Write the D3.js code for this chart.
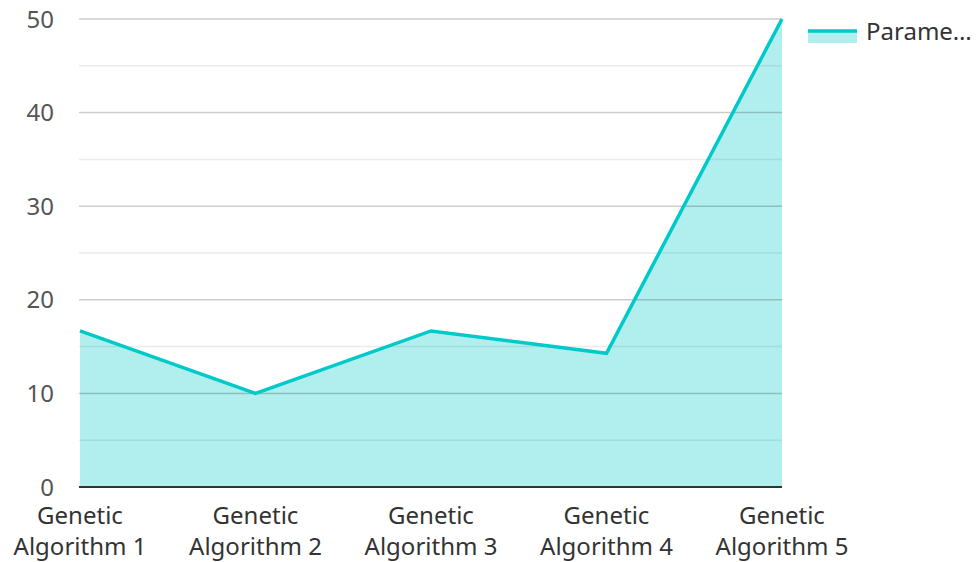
<!DOCTYPE html>
<html>
<head>
<meta charset="utf-8">
<script src="https://cdn.jsdelivr.net/npm/d3@7"></script>
<style>
  html, body { margin: 0; padding: 0; background: #fff; }
  svg { display: block; font-family: "Noto Sans", "Open Sans", sans-serif; }
</style>
</head>
<body>
<svg id="chart" width="979" height="562"></svg>
<script>
// Chart data
const categories = ["Genetic Algorithm 1", "Genetic Algorithm 2", "Genetic Algorithm 3", "Genetic Algorithm 4", "Genetic Algorithm 5"];
const seriesName = "Parameter";
const seriesValues = [16.67, 10, 16.67, 14.29, 50];
const yTicks = [0, 10, 20, 30, 40, 50];
const yMinorTicks = [5, 15, 25, 35, 45];

const W = 979, H = 562;
const m = { left: 80, right: 197, top: 19, bottom: 75 };
const svg = d3.select("#chart");

const x = d3.scalePoint().domain(categories).range([m.left, W - m.right]);
const y = d3.scaleLinear().domain([0, 50]).range([H - m.bottom, m.top]);

const lineColor = "#00c9c9";
const fillColor = "#b1efee";
const fontSize = 24;

// Area fill
const area = d3.area()
  .x((d, i) => x(categories[i]))
  .y0(y(0))
  .y1(d => y(d));
svg.append("path")
  .datum(seriesValues)
  .attr("d", area)
  .attr("fill", fillColor);

// Gridlines (drawn over the fill, semi-transparent)
const grid = svg.append("g");
grid.selectAll("line.minor")
  .data(yMinorTicks)
  .join("line")
  .attr("class", "minor")
  .attr("x1", m.left - 1).attr("x2", W - m.right)
  .attr("y1", d => y(d)).attr("y2", d => y(d))
  .attr("stroke", "rgba(0,0,0,0.08)")
  .attr("stroke-width", 1.5);
grid.selectAll("line.major")
  .data(yTicks.filter(d => d !== 0))
  .join("line")
  .attr("class", "major")
  .attr("x1", m.left - 1).attr("x2", W - m.right)
  .attr("y1", d => y(d)).attr("y2", d => y(d))
  .attr("stroke", "rgba(0,0,0,0.2)")
  .attr("stroke-width", 1.5);

// Series line
const line = d3.line()
  .x((d, i) => x(categories[i]))
  .y(d => y(d));
svg.append("path")
  .datum(seriesValues)
  .attr("d", line)
  .attr("fill", "none")
  .attr("stroke", lineColor)
  .attr("stroke-width", 3.5)
  .attr("stroke-linejoin", "miter");

// Baseline axis
svg.append("line")
  .attr("x1", m.left - 1).attr("x2", W - m.right)
  .attr("y1", y(0)).attr("y2", y(0))
  .attr("stroke", "#333")
  .attr("stroke-width", 2);

// Y axis labels
svg.append("g")
  .selectAll("text")
  .data(yTicks)
  .join("text")
  .attr("x", 54)
  .attr("y", d => y(d))
  .attr("dy", "0.36em")
  .attr("text-anchor", "end")
  .attr("font-size", fontSize)
  .attr("fill", "#555")
  .text(d => d);

// X axis labels (two lines)
const xl = svg.append("g")
  .selectAll("text")
  .data(categories)
  .join("text")
  .attr("x", d => x(d))
  .attr("y", 524)
  .attr("text-anchor", "middle")
  .attr("font-size", fontSize)
  .attr("fill", "#333");
xl.each(function(d) {
  const parts = d.split(" ");
  const first = parts[0];
  const rest = parts.slice(1).join(" ");
  const t = d3.select(this);
  t.append("tspan").attr("x", x(d)).attr("dy", 0).text(first);
  t.append("tspan").attr("x", x(d)).attr("dy", 31).text(rest);
});

// Legend
const lg = svg.append("g").attr("transform", "translate(808,31)");
lg.append("rect").attr("x", 0).attr("y", 0).attr("width", 49).attr("height", 12).attr("fill", fillColor);
lg.append("line").attr("x1", 0).attr("x2", 49).attr("y1", 0).attr("y2", 0)
  .attr("stroke", lineColor).attr("stroke-width", 3.5);
lg.append("text")
  .attr("x", 58).attr("y", 0).attr("dy", "0.36em")
  .attr("font-size", fontSize).attr("fill", "#333")
  .text("Parame…");
</script>
</body>
</html>
